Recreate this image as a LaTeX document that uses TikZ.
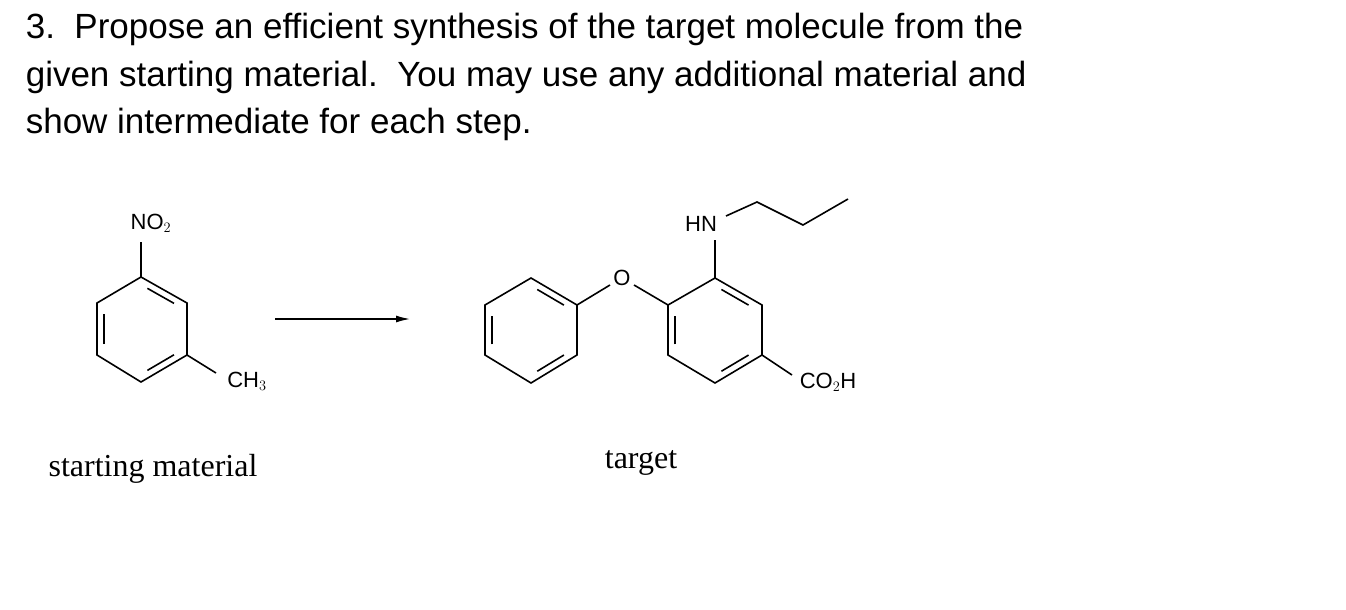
\documentclass[tikz,border=0pt]{standalone}
\usepackage{fontspec}
\usetikzlibrary{calc,arrows.meta}
\setmainfont{Liberation Sans}
\newfontfamily\serifx{Liberation Serif}
\newcommand{\dbl}[3]{\draw[bond] ($(#1)!0.16!(#2)!0.15!(#3)$) -- ($(#1)!0.84!(#2)!0.15!(#3)$);}
\begin{document}
\begin{tikzpicture}[x=1pt,y=-1pt,line width=1.6pt,
  bond/.style={line width=1.6pt},
  lbl/.style={inner sep=0pt,font=\fontsize{22}{26}\selectfont},
  captext/.style={inner sep=0pt,font=\serifx\fontsize{32}{38}\selectfont,anchor=base},
  ttl/.style={inner sep=0pt,anchor=base west,font=\fontsize{35}{42}\selectfont}]
\useasboundingbox (0,0) rectangle (1346,610);
\node[ttl] (t1) at (25,38) {3.\ \ Propose an efficient synthesis of the target molecule from the};
\node[ttl] (t2) at (25,86) {given starting material.\ \ You may use any additional material and};
\node[ttl] (t3) at (25,133) {show intermediate for each step.};
% starting material
\foreach \n/\x/\y in {a1/141/277,a2/187/303,a3/187/355,a4/141/382,a5/97/355,a6/97/303}
  \coordinate (\n) at (\x,\y);
\coordinate (ac) at (142,329);
\draw[bond] (a1)--(a2)--(a3)--(a4)--(a5)--(a6)--cycle;
\dbl{a1}{a2}{ac}\dbl{a5}{a6}{ac}\dbl{a3}{a4}{ac}
\node[lbl] (no2) at (151,223) {NO$_2$};
\node[lbl] (ch3) at (247,381) {CH$_3$};
\coordinate (nb) at (141,242);
\draw[bond] (a1)--(nb);
\coordinate (cb) at (216,373);
\draw[bond] (a3)--(cb);
% arrow
\coordinate (r1) at (275,319); \coordinate (r2) at (410,319);
\draw[line width=1.4pt,-{Latex[length=14pt,width=7pt]}] (r1)--(r2);
\node[captext] (sm) at (153,476) {starting material};
\node[captext] (tg) at (641,468) {target};
% target left ring
\foreach \n/\x/\y in {b1/531/278,b2/577/305,b3/577/355,b4/531/383,b5/485/355,b6/485/305}
  \coordinate (\n) at (\x,\y);
\coordinate (bc) at (531,330);
\draw[bond] (b1)--(b2)--(b3)--(b4)--(b5)--(b6)--cycle;
\dbl{b1}{b2}{bc}\dbl{b5}{b6}{bc}\dbl{b3}{b4}{bc}
% right ring
\foreach \n/\x/\y in {c1/715/278,c2/762/305,c3/762/355,c4/715/383,c5/668/355,c6/668/305}
  \coordinate (\n) at (\x,\y);
\coordinate (cc) at (715,330);
\draw[bond] (c1)--(c2)--(c3)--(c4)--(c5)--(c6)--cycle;
\dbl{c1}{c2}{cc}\dbl{c5}{c6}{cc}\dbl{c3}{c4}{cc}
\node[lbl] (o) at (622,278) {O};
\draw[bond] (b2)--(610,285);
\draw[bond] (634,285)--(c6);
\node[lbl] (hn) at (701,224) {HN};
\draw[bond] (c1)--(715,240);
\coordinate (h1) at (757,202); \coordinate (h2) at (803,225); \coordinate (h3) at (848,199);
\draw[bond] (726,216)--(h1)--(h2)--(h3);
\node[lbl] (co2h) at (828,382) {CO$_2$H};
\draw[bond] (c3)--(792,375);
\end{tikzpicture}
\end{document}
